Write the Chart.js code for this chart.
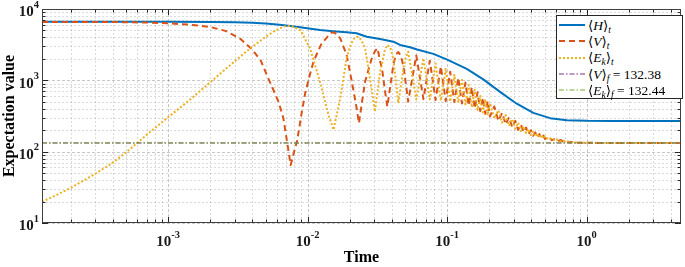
<!DOCTYPE html>
<html>
<head>
<meta charset="utf-8">
<script src="https://cdn.jsdelivr.net/npm/chart.js@4.4.1/dist/chart.umd.min.js"></script>
<style>
html,body{margin:0;padding:0;background:#fff;}
#wrap{position:relative;width:685px;height:267px;overflow:hidden;}
#legend{position:absolute;left:556px;top:15px;width:127px;height:84px;box-sizing:border-box;border:1px solid #262626;background:#fff;
  font-family:"Liberation Serif","DejaVu Serif",serif;font-size:13.5px;color:#000;padding-top:1px;}
#legend .row{height:16.3px;display:flex;align-items:center;white-space:nowrap;}
#legend svg{margin-left:2px;margin-right:3px;flex:none;}
#legend sub{font-size:9.5px;vertical-align:-3px;line-height:0;}
#legend i{font-style:italic;}
</style>
</head>
<body>
<div id="wrap">
  <canvas id="c" width="685" height="267"></canvas>
  <div id="legend"></div>
</div>
<script>
// ---------------- data ----------------
const xRange = [1.245e-4, 4.74];
const yRange = [10, 10000];

// <H>_t
const timeH = [1.245e-4, 1e-3, 2e-3, 3e-3, 4e-3, 5e-3, 6.3e-3, 7.5e-3, 8.8e-3, 0.01225, 0.0152, 0.019, 0.0224,
  0.0265, 0.033, 0.0411, 0.0459, 0.0541, 0.0608, 0.0795, 0.1, 0.138, 0.1815, 0.239, 0.315, 0.414, 0.546, 0.72, 1.0, 1.5, 4.74];
const valH = [6600, 6600, 6580, 6520, 6420, 6280, 6000, 5760, 5550, 5080, 4880, 4720, 4570,
  4090, 3800, 3480, 3135, 2910, 2700, 2350, 1950, 1450, 1030, 690, 470, 350, 295, 276, 271, 270, 270];

// <V>_t and <E_k>_t share one time grid
const timeOsc = [
  1.245e-4, 1.6e-4, 2e-4, 3e-4, 4e-4, 5e-4, 7e-4, 1e-3, 1.4e-3, 2e-3, 2.6e-3, 3.3e-3, 4e-3, 4.6e-3, 5.2e-3, 5.7e-3,
  6.2e-3, 6.7e-3, 7.1e-3, 7.55e-3, 8e-3, 8.4e-3, 9e-3, 9.6e-3, 0.0104, 0.011, 0.0118, 0.0126, 0.0136, 0.0142, 0.0149, 0.0153,
  0.016, 0.0171, 0.018, 0.019, 0.02, 0.0207, 0.0215, 0.0224, 0.0233, 0.0245, 0.0258, 0.0272, 0.0288, 0.0303, 0.0316, 0.033,
  0.0342, 0.0356, 0.0372, 0.039, 0.0411, 0.0428, 0.0446, 0.0465, 0.0485, 0.0505, 0.0525,
  0.06, 0.0675, 0.075, 0.0825, 0.09, 0.0975, 0.105, 0.1125, 0.12, 0.1275, 0.135, 0.1425, 0.15, 0.1575, 0.165, 0.1725,
  0.18, 0.1875, 0.195, 0.2025, 0.2175, 0.2325, 0.2475, 0.2625, 0.2775, 0.2925, 0.3075, 0.3225, 0.3375, 0.3525, 0.3675,
  0.3825, 0.3975, 0.4125, 0.4275, 0.4425, 0.4575, 0.4725, 0.4875, 0.5025, 0.5325, 0.5625, 0.5925, 0.6225, 0.6525, 0.6825,
  0.7125, 0.7425, 0.7725, 0.85, 1.0, 1.5, 4.74];
const valV = [
  6580, 6580, 6580, 6570, 6560, 6540, 6460, 6300, 6050, 5600, 4900, 3800, 2700, 1900, 1080, 720,
  490, 290, 140, 65, 101, 142, 327, 670, 1230, 1840, 2500, 3310, 3900, 4350, 4700, 4680,
  4500, 3880, 2990, 2280, 1360, 960, 640, 410, 251, 500, 960, 1390, 2040, 2550, 2820, 1875,
  1400, 766, 428, 808, 1644, 2300, 2500, 2200, 1600, 900, 503,
  2230, 545, 1880, 530, 1570, 512, 1320, 495, 1090, 475, 930, 442, 800, 403, 680, 370,
  570, 340, 510, 312, 430, 270, 350, 242, 305, 220, 270, 202, 240, 188, 218,
  176, 200, 167, 186, 160, 176, 155, 168, 151, 160, 145, 151, 140, 146, 137,
  141, 135, 137, 134, 133, 132.5, 132.4];
const valEk = [
  19.8, 25, 31, 49, 70, 98, 172, 305, 515, 940, 1460, 2170, 2950, 3620, 4280, 4840,
  5250, 5650, 5800, 5800, 5600, 5300, 4900, 3750, 2800, 1930, 1220, 775, 425, 310, 240, 202,
  304, 561, 1057, 2040, 2900, 3400, 3850, 4090, 4050, 3500, 2820, 1490, 726, 365, 678, 1324,
  1750, 2600, 3135, 2900, 2000, 1000, 477, 800, 1500, 2100, 2520,
  540, 2040, 540, 1720, 522, 1440, 505, 1200, 486, 1010, 460, 860, 420, 740, 385, 605,
  355, 540, 325, 480, 292, 380, 255, 325, 230, 285, 210, 255, 194, 228, 182,
  208, 171, 192, 163, 180, 157, 172, 153, 165, 148, 155, 142, 148, 139, 143,
  136, 139, 134, 134.5, 133, 132.5, 132.4];

// final (time-averaged) values
const finalV = 132.38;
const finalEk = 132.44;

// axis tick labels (powers of ten)
const xTickExps = [-3, -2, -1, 0];
const yTickExps = [1, 2, 3, 4];
const xTitle = 'Time';
const yTitle = 'Expectation value';

// legend labels
const seriesNames = ['⟨H⟩t', '⟨V⟩t', '⟨Ek⟩t', '⟨V⟩f = 132.38', '⟨Ek⟩f = 132.44'];
const legendHTML = [
  '⟨<i>H</i>⟩<sub><i>t</i></sub>',
  '⟨<i>V</i>⟩<sub><i>t</i></sub>',
  '⟨<i>E<sub>k</sub></i>⟩<sub><i>t</i></sub>',
  '⟨<i>V</i>⟩<sub><i>f</i></sub> = 132.38',
  '⟨<i>E<sub>k</sub></i>⟩<sub><i>f</i></sub> = 132.44'
];

// ---------------- chart ----------------
const pts = (xs, ys) => xs.map((t, i) => ({x: t, y: ys[i]}));
const SERIF = '"Liberation Serif","Times New Roman",serif';

function logGrid(min, max) {
  const out = [];
  for (let k = Math.floor(Math.log10(min)); k <= Math.ceil(Math.log10(max)); k++) {
    for (let m = 1; m <= 9; m++) {
      const v = m * Math.pow(10, k);
      if (v >= min * 0.9999 && v <= max * 1.0001) out.push({v, major: m === 1});
    }
  }
  return out;
}

const axesPlugin = {
  id: 'matlabAxes',
  beforeDatasetsDraw(chart) {
    const {ctx, chartArea: a, scales: {x, y}} = chart;
    ctx.save();
    ctx.lineWidth = 1;
    for (const g of logGrid(x.min, x.max)) {
      const p = Math.round(x.getPixelForValue(g.v)) + 0.5;
      ctx.strokeStyle = g.major ? 'rgba(0,0,0,0.22)' : 'rgba(0,0,0,0.14)';
      ctx.setLineDash(g.major ? [3, 2] : [2, 2]);
      ctx.beginPath(); ctx.moveTo(p, a.top); ctx.lineTo(p, a.bottom); ctx.stroke();
    }
    for (const g of logGrid(y.min, y.max)) {
      const p = Math.round(y.getPixelForValue(g.v)) + 0.5;
      ctx.strokeStyle = g.major ? 'rgba(0,0,0,0.22)' : 'rgba(0,0,0,0.14)';
      ctx.setLineDash(g.major ? [3, 2] : [2, 2]);
      ctx.beginPath(); ctx.moveTo(a.left, p); ctx.lineTo(a.right, p); ctx.stroke();
    }
    ctx.restore();
  },
  afterDatasetsDraw(chart) {
    const {ctx, chartArea: a, scales: {x, y}} = chart;
    ctx.save();
    ctx.setLineDash([]);
    ctx.strokeStyle = '#262626';
    ctx.lineWidth = 1;
    // ticks (inside)
    ctx.beginPath();
    for (const g of logGrid(x.min, x.max)) {
      const p = Math.round(x.getPixelForValue(g.v)) + 0.5;
      const L = g.major ? 6 : 3.5;
      ctx.moveTo(p, a.bottom); ctx.lineTo(p, a.bottom - L);
      ctx.moveTo(p, a.top); ctx.lineTo(p, a.top + L);
    }
    for (const g of logGrid(y.min, y.max)) {
      const p = Math.round(y.getPixelForValue(g.v)) + 0.5;
      const L = g.major ? 6 : 3.5;
      ctx.moveTo(a.left, p); ctx.lineTo(a.left + L, p);
      ctx.moveTo(a.right, p); ctx.lineTo(a.right - L, p);
    }
    ctx.stroke();
    // box
    ctx.strokeStyle = '#404040';
    ctx.strokeRect(Math.round(a.left) + 0.5, Math.round(a.top) + 0.5, Math.round(a.right - a.left) - 1, Math.round(a.bottom - a.top) - 1);
    // tick labels
    ctx.fillStyle = '#1a1a1a';
    ctx.textBaseline = 'middle';
    const baseFont = 'bold 15px ' + SERIF;
    const expFont = 'bold 10.5px ' + SERIF;
    for (const e of yTickExps) {
      const p = y.getPixelForValue(Math.pow(10, e));
      const es = String(e);
      ctx.font = expFont; const we = ctx.measureText(es).width;
      const right = a.left - 3;
      ctx.textAlign = 'left'; ctx.fillText(es, right - we, p - 4);
      ctx.font = baseFont; ctx.textAlign = 'right'; ctx.fillText('10', right - we, p + 3.5);
    }
    for (const e of xTickExps) {
      const p = x.getPixelForValue(Math.pow(10, e));
      const es = e < 0 ? '-' + Math.abs(e) : String(e);
      ctx.font = expFont; const we = ctx.measureText(es).width;
      ctx.font = baseFont; const wb = ctx.measureText('10').width;
      const start = p - (wb + we) / 2;
      ctx.textAlign = 'left';
      ctx.fillText('10', start, a.bottom + 19);
      ctx.font = expFont; ctx.fillText(es, start + wb, a.bottom + 12);
    }
    ctx.restore();
  }
};

const common = {pointRadius: 0, pointHoverRadius: 0, fill: false, tension: 0, borderCapStyle: 'butt', borderJoinStyle: 'round'};

const chart = new Chart(document.getElementById('c'), {
  type: 'line',
  data: {
    datasets: [
      Object.assign({label: seriesNames[0], data: pts(timeH, valH), borderColor: '#0072BD', borderWidth: 2, borderDash: [], order: 5}, common),
      Object.assign({label: seriesNames[1], data: pts(timeOsc, valV), borderColor: '#D95319', borderWidth: 2, borderDash: [6, 4], order: 4}, common),
      Object.assign({label: seriesNames[2], data: pts(timeOsc, valEk), borderColor: '#EDB120', borderWidth: 2, borderDash: [2, 2], order: 3}, common),
      Object.assign({label: seriesNames[3], data: pts(xRange, [finalV, finalV]), borderColor: '#7E2F8E', borderWidth: 1, borderDash: [5, 2, 1.5, 2], order: 2}, common),
      Object.assign({label: seriesNames[4], data: pts(xRange, [finalEk, finalEk]), borderColor: '#77AC30', borderWidth: 1, borderDash: [5, 2, 1.5, 2], order: 1}, common)
    ]
  },
  options: {
    responsive: false,
    animation: false,
    devicePixelRatio: 1,
    parsing: true,
    layout: {padding: {left: 0, right: 4, top: 9, bottom: 0}},
    plugins: {legend: {display: false}, tooltip: {enabled: false}},
    scales: {
      x: {
        type: 'logarithmic', min: xRange[0], max: xRange[1], position: 'bottom',
        grid: {display: false}, border: {display: false}, ticks: {display: false},
        title: {display: true, text: xTitle, color: '#000', padding: {top: 0, bottom: 0},
          font: {family: SERIF, size: 16, weight: 'bold', lineHeight: 1.2}},
        afterFit: (s) => { s.height = 44; }
      },
      y: {
        type: 'logarithmic', min: yRange[0], max: yRange[1], position: 'left',
        grid: {display: false}, border: {display: false}, ticks: {display: false},
        title: {display: true, text: yTitle, color: '#000', padding: {top: 0, bottom: 0},
          font: {family: SERIF, size: 16, weight: 'bold', lineHeight: 1.2}},
        afterFit: (s) => { s.width = 42; }
      }
    }
  },
  plugins: [axesPlugin]
});

// HTML legend built from the datasets
(function buildLegend() {
  const box = document.getElementById('legend');
  chart.data.datasets.forEach((ds, i) => {
    const row = document.createElement('div');
    row.className = 'row';
    const dash = (ds.borderDash && ds.borderDash.length) ? ds.borderDash.join(' ') : 'none';
    row.innerHTML = '<svg width="26" height="6"><line x1="0" y1="3" x2="26" y2="3" stroke="' + ds.borderColor +
      '" stroke-width="' + ds.borderWidth + '" stroke-dasharray="' + dash + '"/></svg><span>' + legendHTML[i] + '</span>';
    box.appendChild(row);
  });
})();
</script>
</body>
</html>
